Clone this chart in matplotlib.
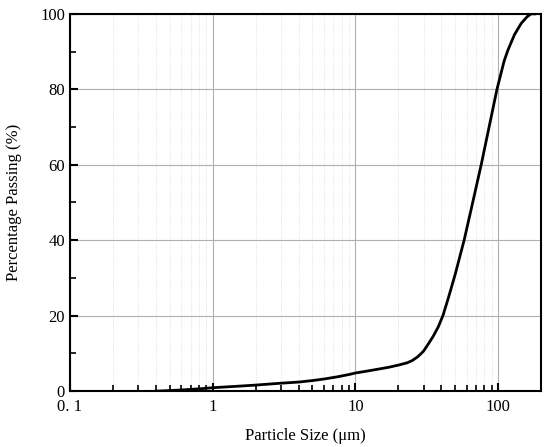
import matplotlib.pyplot as plt
from matplotlib.ticker import FixedLocator, NullFormatter, LogLocator

# particle size distribution
size_um = [0.4, 0.5, 0.6, 0.8, 1, 1.5, 2, 3, 4, 5, 6, 7.5, 9, 10, 12, 14.3,
           17, 20, 23, 25, 27.3, 30, 32, 35, 38, 41, 45, 50, 57.7, 65, 76,
           85, 98, 110, 117, 130, 145, 160, 170, 180]
passing = [0, 0.15, 0.3, 0.6, 0.9, 1.3, 1.6, 2.1, 2.4, 2.8, 3.2, 3.8, 4.4,
           4.8, 5.3, 5.8, 6.3, 6.9, 7.5, 8.1, 9.1, 10.6, 12.2, 14.5, 17, 20,
           25, 31, 40, 48.6, 60, 68.8, 80, 87.5, 90.4, 94.5, 97.5, 99.3,
           100, 100]

x_ticks = [0.1, 1, 10, 100]
x_tick_labels = ['0. 1', '1', '10', '100']
y_ticks = [0, 20, 40, 60, 80, 100]

plt.rcParams['font.family'] = ['Liberation Serif', 'DejaVu Serif']

fig = plt.figure(figsize=(5.5, 4.47), dpi=100)
ax = fig.add_axes([0.127, 0.125, 0.857, 0.844])

ax.plot(size_um, passing, color='black', lw=2.0)

ax.set_xscale('log')
ax.set_xlim(0.1, 200)
ax.set_ylim(0, 100)

ax.set_xticks(x_ticks)
ax.set_xticklabels(x_tick_labels)
ax.xaxis.set_minor_locator(LogLocator(base=10, subs=range(2, 10)))
ax.xaxis.set_minor_formatter(NullFormatter())
ax.set_yticks(y_ticks)
ax.yaxis.set_minor_locator(FixedLocator([10, 30, 50, 70, 90]))

ax.grid(which='major', color='#b0b0b0', lw=0.8, ls='-')
ax.grid(which='minor', axis='x', color='#d8d8d8', lw=0.6, ls=':')
ax.set_axisbelow(True)

ax.tick_params(which='both', direction='in', top=False, right=False,
               labelsize=12, color='black')
ax.tick_params(which='major', length=6, width=1.5)
ax.tick_params(which='minor', length=4, width=1.2)
ax.tick_params(axis='x', which='major', pad=6)
for s in ax.spines.values():
    s.set_linewidth(1.5)
    s.set_color('black')

ax.set_xlabel('Particle Size (\u03bcm)', fontsize=12, labelpad=9)
ax.set_ylabel('Percentage Passing (%)', fontsize=12, labelpad=13)

fig.savefig('out.png', dpi=100)
